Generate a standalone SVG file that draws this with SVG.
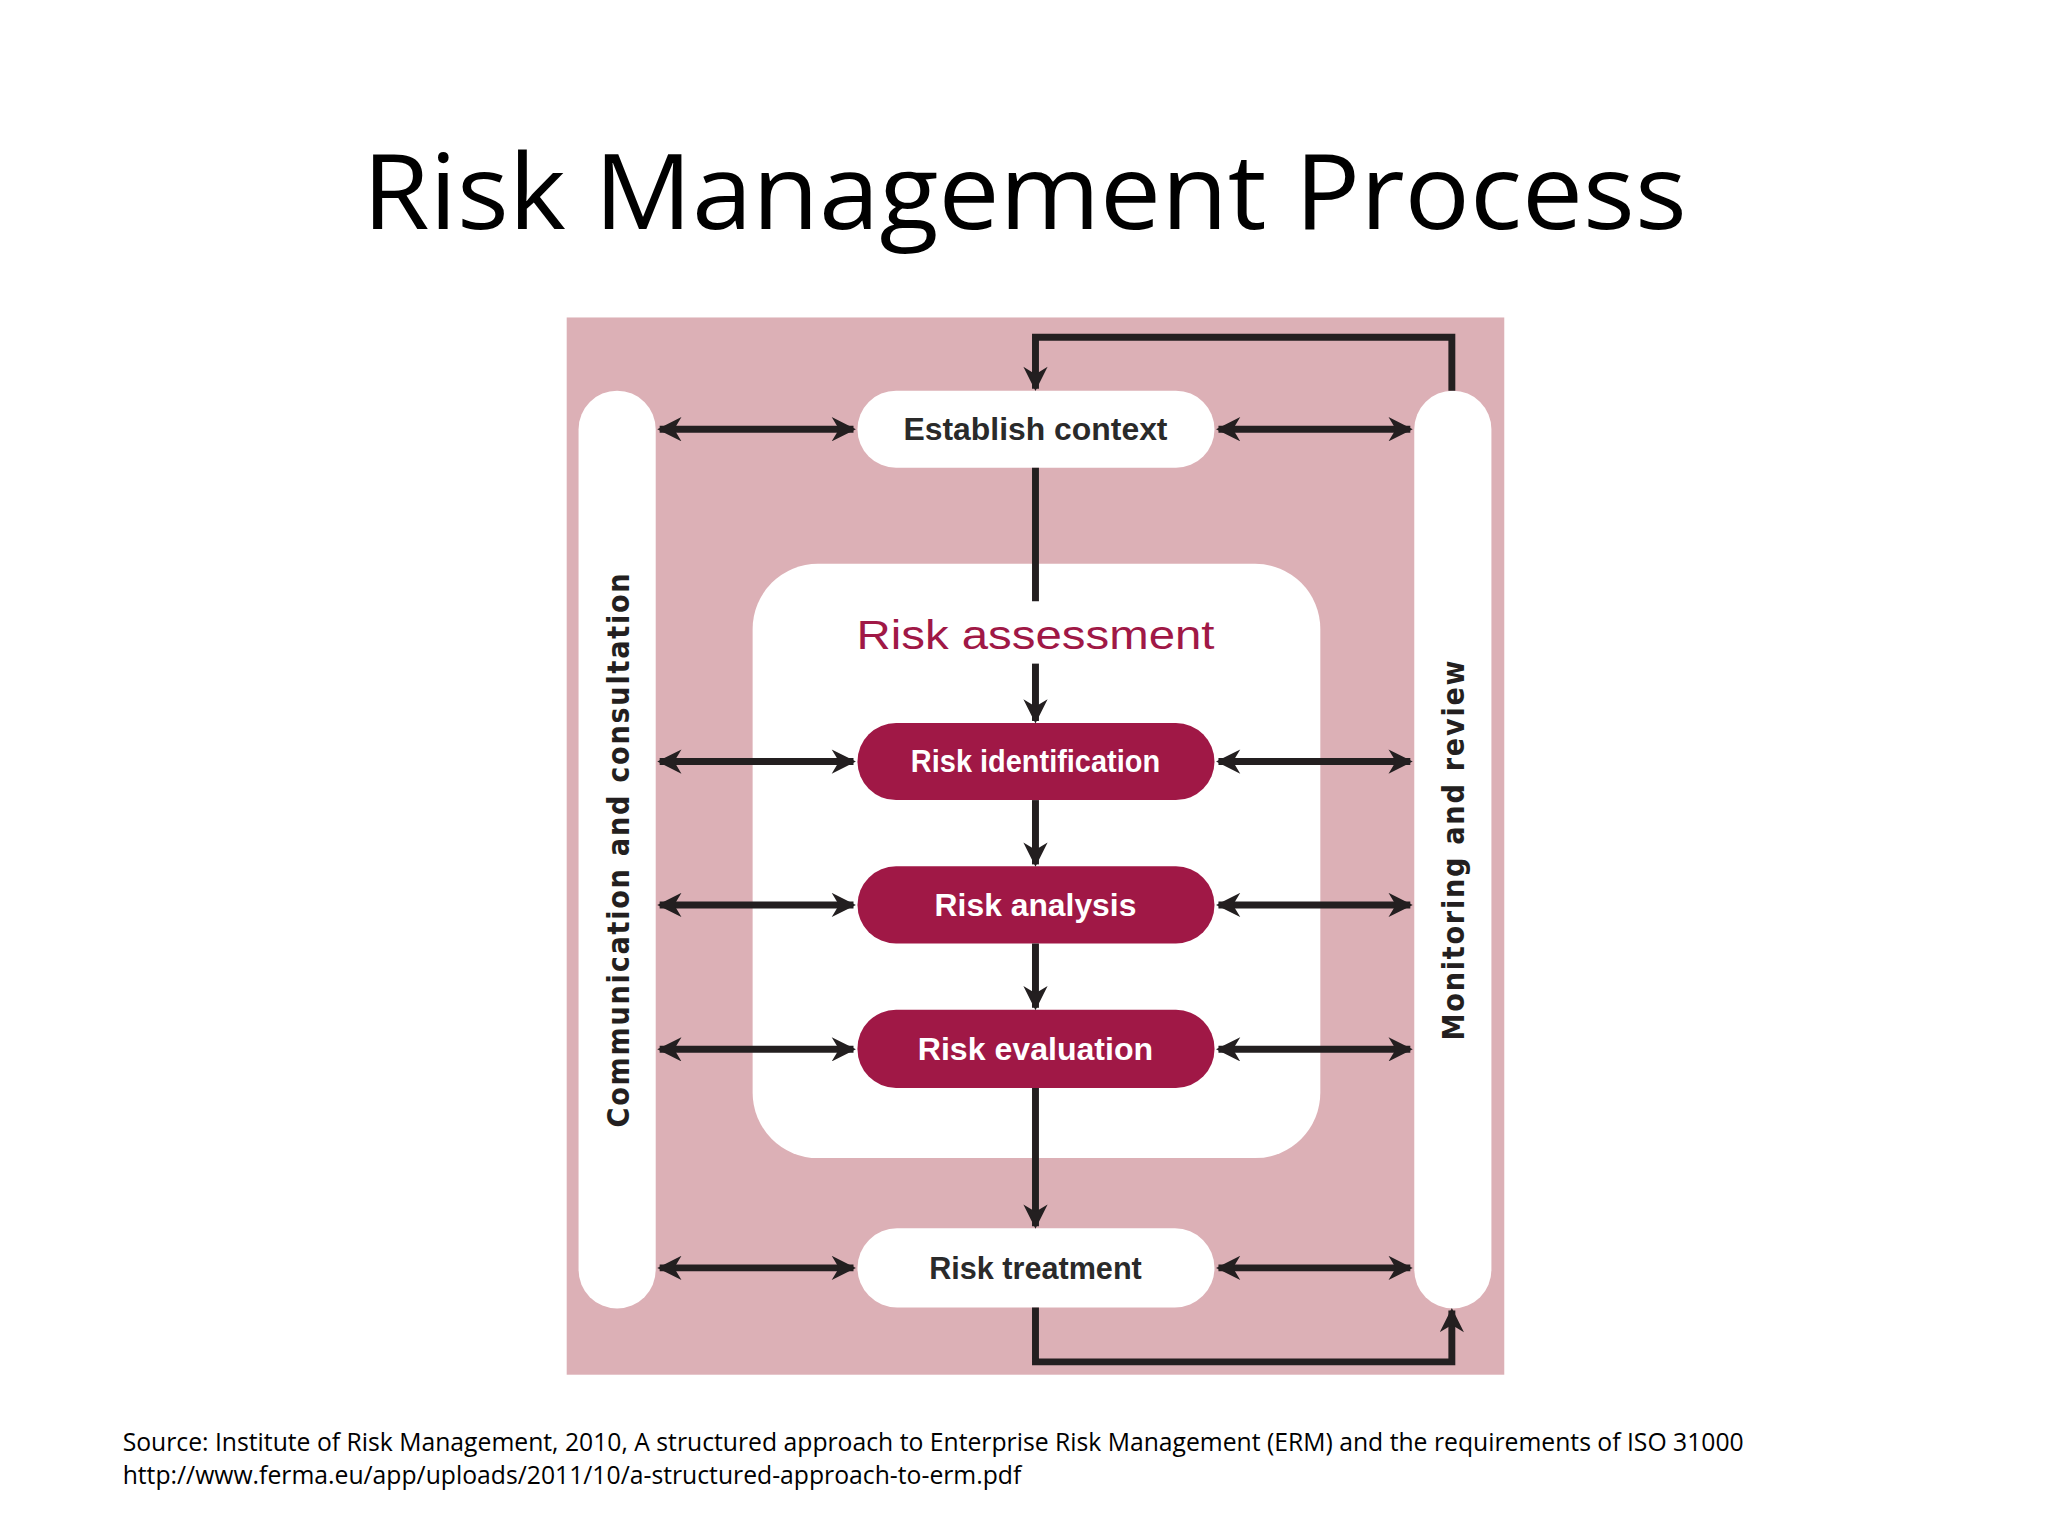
<svg xmlns="http://www.w3.org/2000/svg" width="2048" height="1536" viewBox="0 0 2048 1536">
<defs>
<marker id="ah" viewBox="0 0 10 10" refX="9" refY="5" markerWidth="4.5" markerHeight="3.5" orient="auto-start-reverse" markerUnits="strokeWidth"><path d="M0,0 L10,5 L0,10 L3,5 Z" fill="#231f20"/></marker>
<style>
.ln{stroke:#231f20;stroke-width:7;fill:none}
.wt{fill:#fff}
.rd{fill:#a01846}
.bt{font-family:"Liberation Sans",Arial,sans-serif;font-weight:bold;font-size:31px;text-anchor:middle}
.vt{font-family:"DejaVu Sans","Liberation Sans",sans-serif;font-weight:bold;font-size:31px;text-anchor:middle;fill:#231f20;letter-spacing:2px}
</style>
</defs>
<rect width="2048" height="1536" fill="#fff"/>
<g transform="scale(0.989)">
<text x="1036" y="232" font-family="Open Sans, Liberation Sans, sans-serif" font-size="106" text-anchor="middle" textLength="1339" lengthAdjust="spacingAndGlyphs">Risk Management Process</text>
<rect x="573" y="321" width="948" height="1069" fill="#dcb0b6"/>
<g id="inner"><rect x="761" y="570" width="574" height="601" rx="66" class="wt"/>
<text x="1047" y="656" font-family="Liberation Sans,sans-serif" font-size="42" text-anchor="middle" fill="#a01846" textLength="362" lengthAdjust="spacingAndGlyphs">Risk assessment</text></g>
<g id="comm"><rect x="585" y="395" width="78" height="928" rx="39" class="wt"/>
<text class="vt" transform="translate(636,859) rotate(-90)" textLength="562" lengthAdjust="spacingAndGlyphs">Communication and consultation</text></g>
<g id="monitor"><rect x="1430" y="395" width="78" height="928" rx="39" class="wt"/>
<text class="vt" transform="translate(1480,859) rotate(-90)" textLength="386" lengthAdjust="spacingAndGlyphs">Monitoring and review</text></g>
<g id="context"><rect x="867" y="395" width="361" height="78" rx="39" class="wt"/>
<text class="bt" x="1047" y="445" fill="#2a2a2a" textLength="267" lengthAdjust="spacingAndGlyphs">Establish context</text></g>
<g id="ident"><rect x="867" y="731" width="361" height="78" rx="39" class="rd"/>
<text class="bt" x="1047" y="781" fill="#fff" textLength="252" lengthAdjust="spacingAndGlyphs">Risk identification</text></g>
<g id="analysis"><rect x="867" y="876" width="361" height="78" rx="39" class="rd"/>
<text class="bt" x="1047" y="926" fill="#fff" textLength="204" lengthAdjust="spacingAndGlyphs">Risk analysis</text></g>
<g id="evaluation"><rect x="867" y="1021" width="361" height="79" rx="39" class="rd"/>
<text class="bt" x="1047" y="1072" fill="#fff" textLength="238" lengthAdjust="spacingAndGlyphs">Risk evaluation</text></g>
<g id="treatment"><rect x="867" y="1242" width="361" height="80" rx="40" class="wt"/>
<text class="bt" x="1047" y="1293" fill="#2a2a2a" textLength="215" lengthAdjust="spacingAndGlyphs">Risk treatment</text></g>
<g id="connectors">
<line class="ln" x1="667" y1="434" x2="863" y2="434" marker-start="url(#ah)" marker-end="url(#ah)"/>
<line class="ln" x1="1232" y1="434" x2="1426" y2="434" marker-start="url(#ah)" marker-end="url(#ah)"/>
<line class="ln" x1="667" y1="770" x2="863" y2="770" marker-start="url(#ah)" marker-end="url(#ah)"/>
<line class="ln" x1="1232" y1="770" x2="1426" y2="770" marker-start="url(#ah)" marker-end="url(#ah)"/>
<line class="ln" x1="667" y1="915" x2="863" y2="915" marker-start="url(#ah)" marker-end="url(#ah)"/>
<line class="ln" x1="1232" y1="915" x2="1426" y2="915" marker-start="url(#ah)" marker-end="url(#ah)"/>
<line class="ln" x1="667" y1="1061" x2="863" y2="1061" marker-start="url(#ah)" marker-end="url(#ah)"/>
<line class="ln" x1="1232" y1="1061" x2="1426" y2="1061" marker-start="url(#ah)" marker-end="url(#ah)"/>
<line class="ln" x1="667" y1="1282" x2="863" y2="1282" marker-start="url(#ah)" marker-end="url(#ah)"/>
<line class="ln" x1="1232" y1="1282" x2="1426" y2="1282" marker-start="url(#ah)" marker-end="url(#ah)"/>
<line class="ln" x1="1047" y1="473" x2="1047" y2="608"/>
<line class="ln" x1="1047" y1="671" x2="1047" y2="729" marker-end="url(#ah)"/>
<line class="ln" x1="1047" y1="809" x2="1047" y2="874" marker-end="url(#ah)"/>
<line class="ln" x1="1047" y1="954" x2="1047" y2="1019" marker-end="url(#ah)"/>
<line class="ln" x1="1047" y1="1100" x2="1047" y2="1240" marker-end="url(#ah)"/>
<path class="ln" d="M1468,395 V341 H1047 V393" marker-end="url(#ah)"/>
<path class="ln" d="M1047,1322 V1377 H1468 V1325" marker-end="url(#ah)"/>
</g>
<text x="124" y="1467" font-family="Open Sans, Liberation Sans, sans-serif" font-size="25" fill="#000">Source: Institute of Risk Management, 2010, A structured approach to Enterprise Risk Management (ERM) and the requirements of ISO 31000</text>
<text x="124" y="1501" font-family="Open Sans, Liberation Sans, sans-serif" font-size="25" fill="#000">http://www.ferma.eu/app/uploads/2011/10/a-structured-approach-to-erm.pdf</text>
</g>
</svg>
